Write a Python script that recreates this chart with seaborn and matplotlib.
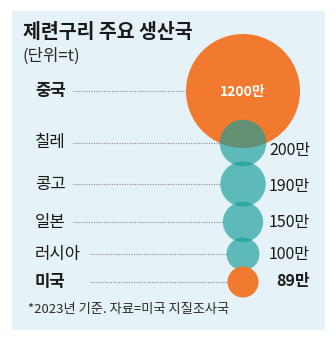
import numpy as np
import pandas as pd
import matplotlib
matplotlib.use("Agg")
import matplotlib.pyplot as plt
from matplotlib.patches import Rectangle
import seaborn as sns

# Refined copper output by country, 2023 (unit: 10,000 t)
countries = ["중국", "칠레", "콩고", "일본", "러시아", "미국"]
values = [1200, 200, 190, 150, 100, 89]
value_labels = ["1200만", "200만", "190만", "150만", "100만", "89만"]
highlight = [True, False, False, False, False, True]

title = "제련구리 주요 생산국"
unit = "(단위=t)"
source = "*2023년 기준. 자료=미국 지질조사국"

# layout (canvas pixels)
W, H = 336, 361
row_y = [91, 143, 184, 222, 254, 282]
value_y = [92, 150, 187, 222, 254, 281]
line_start = [73, 73, 73, 73, 90, 90]
circle_x = 243
r_max_px = 57

ORANGE = "#F17A2E"
TEAL = "#169D97"
BG = "#E5F2F7"
INK = "#1a1a1a"

sns.set_theme(style="white")
plt.rcParams["font.family"] = ["Noto Sans CJK KR", "DejaVu Sans"]

fig = plt.figure(figsize=(W / 100, H / 100), dpi=100)
fig.patch.set_facecolor("white")
ax = fig.add_axes([0, 0, 1, 1])
ax.set_xlim(0, W)
ax.set_ylim(H, 0)
ax.axis("off")

ax.add_patch(Rectangle((12, 11), 313, 319, facecolor=BG, edgecolor="none", zorder=0))

df = pd.DataFrame({
    "country": countries,
    "value": values,
    "x": [circle_x] * len(countries),
    "y": row_y,
    "hl": highlight,
})

# marker area proportional to value
s_max = (2 * r_max_px * 72 / 100) ** 2
kw = dict(x="x", y="y", size="value", sizes=(0, s_max), size_norm=(0, 1200),
          legend=False, linewidth=0, edgecolor="none", ax=ax)

sns.scatterplot(data=df.iloc[[0]], color=ORANGE, alpha=1, zorder=2, **kw)
sns.scatterplot(data=df.iloc[1:5], color=TEAL, alpha=0.65, zorder=3, **kw)
sns.scatterplot(data=df.iloc[[5]], color=ORANGE, alpha=1, zorder=4, **kw)

radii = [r_max_px * np.sqrt(v / 1200) for v in values]

for i, name in enumerate(countries):
    bold = highlight[i]
    ax.text(35, row_y[i], name, fontsize=12, fontweight="bold" if bold else "normal",
            color=INK, va="center", ha="left", zorder=5)
    ax.plot([line_start[i], circle_x - radii[i]], [row_y[i], row_y[i]],
            color="#8a8a8a", lw=0.8, linestyle=(0, (1, 1.3)), zorder=1)
    if i == 0:
        ax.text(circle_x, value_y[i], value_labels[i], fontsize=10, fontweight="bold",
                color="white", ha="center", va="center", zorder=6)
    else:
        ax.text(310, value_y[i], value_labels[i], fontsize=11.5,
                fontweight="bold" if bold else "normal",
                color=INK, ha="right", va="center", zorder=6)

ax.text(23, 33, title, fontsize=14, fontweight="bold", color=INK,
        ha="left", va="center")
ax.text(23, 56, unit, fontsize=12, color="#2a2a2a", ha="left", va="center")
ax.text(28, 310, source, fontsize=9.5, color="#2a2a2a", ha="left", va="center")

fig.savefig("out.png", dpi=100, facecolor="white")
